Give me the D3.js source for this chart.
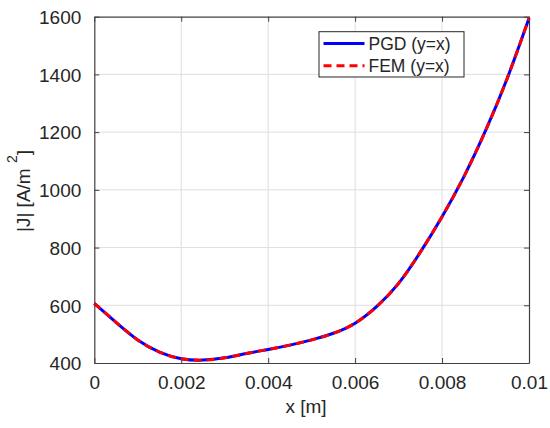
<!DOCTYPE html>
<html>
<head>
<meta charset="utf-8">
<script src="https://cdn.jsdelivr.net/npm/d3@7"></script>
<style>
  body { margin: 0; background: #fff; }
  text { font-family: "Liberation Sans", Arial, sans-serif; fill: #262626; }
</style>
</head>
<body>
<svg id="chart" width="550" height="428"></svg>
<script>
// values
const xs = [0, 0.0005, 0.001, 0.0015, 0.002, 0.0025, 0.003, 0.0035, 0.004, 0.0045, 0.005,
            0.0055, 0.006, 0.0065, 0.007, 0.0075, 0.008, 0.0085, 0.009, 0.0095, 0.01];
const pgd = [607, 541, 480, 438, 415, 410, 418, 433, 447, 462, 480,
             503, 538, 596, 676, 784, 907, 1045, 1205, 1387, 1595];
const fem = [607, 541, 480, 438, 415, 410, 418, 433, 447, 462, 480,
             503, 538, 596, 676, 784, 907, 1045, 1205, 1387, 1595];
const xTicks = [0, 0.002, 0.004, 0.006, 0.008, 0.01];
const yTicks = [400, 600, 800, 1000, 1200, 1400, 1600];
const seriesNames = ["PGD (y=x)", "FEM (y=x)"];

const margin = {left: 94.3, top: 16.7, right: 21, bottom: 65};
const width = 550 - margin.left - margin.right;
const height = 428 - margin.top - margin.bottom;

const svg = d3.select("#chart");
const g = svg.append("g").attr("transform", "translate(" + margin.left + "," + margin.top + ")");

const x = d3.scaleLinear().domain([0, 0.01]).range([0, width]);
const y = d3.scaleLinear().domain([400, 1600]).range([height, 0]);

// grid
g.append("g").selectAll("line")
    .data(xTicks.slice(1, -1))
    .enter().append("line")
    .attr("x1", d => x(d)).attr("x2", d => x(d))
    .attr("y1", 0).attr("y2", height)
    .attr("stroke", "#dedede").attr("stroke-width", 1);
g.append("g").selectAll("line")
    .data(yTicks.slice(1, -1))
    .enter().append("line")
    .attr("y1", d => y(d)).attr("y2", d => y(d))
    .attr("x1", 0).attr("x2", width)
    .attr("stroke", "#dedede").attr("stroke-width", 1);

// axes with inward ticks
const fmt = d => String(d);
const xAxis = g.append("g").attr("transform", "translate(0," + height + ")")
    .call(d3.axisBottom(x).tickValues(xTicks).tickFormat(fmt).tickSizeInner(-5).tickSizeOuter(0).tickPadding(13));
const yAxis = g.append("g")
    .call(d3.axisLeft(y).tickValues(yTicks).tickFormat(fmt).tickSizeInner(-5).tickSizeOuter(0).tickPadding(13));
const xTop = g.append("g")
    .call(d3.axisTop(x).tickValues(xTicks).tickFormat("").tickSizeInner(-5).tickSizeOuter(0));
const yRight = g.append("g").attr("transform", "translate(" + width + ",0)")
    .call(d3.axisRight(y).tickValues(yTicks).tickFormat("").tickSizeInner(-5).tickSizeOuter(0));

[xAxis, yAxis, xTop, yRight].forEach(a => {
    a.select(".domain").attr("stroke", "#404040").attr("stroke-width", 1.2);
    a.selectAll(".tick line").attr("stroke", "#404040");
    a.selectAll("text").style("font-size", "19px").attr("fill", "#262626")
        .style("font-family", "'Liberation Sans', Arial, sans-serif");
});
xAxis.selectAll("text").attr("dy", "0.71em");
yAxis.selectAll("text").attr("dy", "0.36em");

// curves
const line = d3.line()
    .x((d, i) => x(xs[i]))
    .y(d => y(d))
    .curve(d3.curveNatural);

g.append("path").datum(pgd)
    .attr("d", line)
    .attr("fill", "none")
    .attr("stroke", "#0000ff")
    .attr("stroke-width", 3);
g.append("path").datum(fem)
    .attr("d", line)
    .attr("fill", "none")
    .attr("stroke", "#ff0000")
    .attr("stroke-width", 3)
    .attr("stroke-dasharray", "8,5");

// axis labels
svg.append("text")
    .attr("x", 306).attr("y", 413)
    .attr("text-anchor", "middle")
    .style("font-size", "19px")
    .text("x [m]");

const yl = svg.append("text")
    .attr("transform", "translate(30,191) rotate(-90)")
    .attr("text-anchor", "middle")
    .style("font-size", "19px");
yl.append("tspan").text("|J| [A/m ");
yl.append("tspan").attr("dy", -13).style("font-size", "14px").text("2");
yl.append("tspan").attr("dy", 13).text("]");

// legend
const legend = svg.append("g");
legend.append("rect")
    .attr("x", 319).attr("y", 31.7)
    .attr("width", 145).attr("height", 45.3)
    .attr("fill", "#fff")
    .attr("stroke", "#262626").attr("stroke-width", 1);

const rows = [
    {name: seriesNames[0], color: "#0000ff", dash: null},
    {name: seriesNames[1], color: "#ff0000", dash: "8,5"}
];
rows.forEach((r, i) => {
    const cy = 43.5 + i * 22.2;
    legend.append("line")
        .attr("x1", 323.5).attr("x2", 364.5)
        .attr("y1", cy).attr("y2", cy)
        .attr("stroke", r.color).attr("stroke-width", 3)
        .attr("stroke-dasharray", r.dash);
    legend.append("text")
        .attr("x", 368.5).attr("y", cy)
        .attr("dy", "0.36em")
        .style("font-size", "17.5px")
        .text(r.name);
});
</script>
</body>
</html>
